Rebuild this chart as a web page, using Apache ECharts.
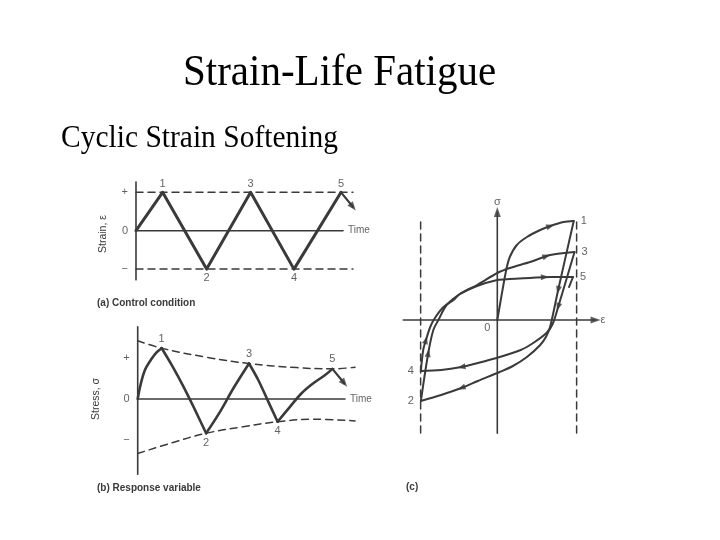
<!DOCTYPE html>
<html>
<head>
<meta charset="utf-8">
<script src="https://cdn.jsdelivr.net/npm/echarts@6/dist/echarts.min.js"></script>
<style>
  html, body { margin: 0; padding: 0; background: #fff; }
  #main { width: 720px; height: 540px; }
</style>
</head>
<body>
<div id="main"></div>
<script>
// ---- (a) control condition: strain vs time ----
var timeA = [0, 1.21, 3.21, 5.21, 7.18, 9.32];
var strainA = [0, 1, -1, 1, -1, 1];
var tailA = [[9.32, 1], [9.86, 0.62]];
var limitTimeA = [0, 9.86];
var axisTimeA = [0, 9.41];
var axisStrainA = [-1.28, 1.27];
var levelLabels = ['+', '0', '\u2212'];
var levelValues = [1, 0, -1];
var peakNames = ['1', '2', '3', '4', '5'];

// ---- (b) response: stress vs time ----
var timeB = [0, 0.11, 0.33, 0.64, 0.86, 1.09, 1.55, 2.08, 2.61, 3.11, 3.74, 4.35, 5.06, 5.48, 5.94, 6.36, 6.92, 7.45, 7.98, 8.52, 8.85];
var stressB = [0, 0.30, 0.70, 0.98, 1.13, 1.23, 0.82, 0.30, -0.27, -0.83, -0.31, 0.26, 0.86, 0.46, -0.07, -0.55, -0.19, 0.14, 0.38, 0.58, 0.73];
var peakTimeB = [1.09, 3.11, 5.06, 6.36, 8.85];
var peakStressB = [1.23, -0.83, 0.86, -0.55, 0.73];
var tailB = [[8.85, 0.73], [9.39, 0.38]];
var upperEnvT = [0, 1.09, 3.14, 5.06, 7.23, 8.85, 9.88];
var upperEnvS = [1.41, 1.23, 1.01, 0.86, 0.76, 0.73, 0.77];
var lowerEnvT = [0, 1.5, 3.11, 4.8, 6.36, 7.98, 9.88];
var lowerEnvS = [-1.32, -1.07, -0.83, -0.67, -0.55, -0.49, -0.53];
var axisTimeB = [0, 9.42];
var axisStressB = [-1.82, 1.75];

// ---- (c) stress-strain hysteresis [strain, stress] ----
var load01 = [[0, 0], [0.085, 0.38], [0.12, 0.52], [0.16, 0.63], [0.25, 0.75], [0.38, 0.83], [0.55, 0.90], [0.68, 0.94], [0.85, 0.98], [0.98, 0.99]];
var branch12 = [[0.98, 0.99], [0.78, 0.30], [0.68, -0.06], [0.63, -0.16], [0.55, -0.25], [0.38, -0.37], [0.2, -0.46], [0.03, -0.52], [-0.25, -0.61], [-0.46, -0.68], [-0.72, -0.75], [-0.98, -0.81]];
var branch23 = [[-0.98, -0.81], [-0.885, -0.33], [-0.82, -0.10], [-0.755, 0], [-0.65, 0.15], [-0.48, 0.26], [-0.26, 0.35], [0, 0.47], [0.16, 0.52], [0.42, 0.58], [0.68, 0.65], [0.99, 0.68]];
var branch34 = [[0.99, 0.68], [0.78, 0.13], [0.71, -0.04], [0.63, -0.13], [0.46, -0.23], [0.3, -0.3], [0.03, -0.37], [-0.25, -0.43], [-0.46, -0.47], [-0.72, -0.50], [-0.98, -0.51]];
var branch45 = [[-0.98, -0.51], [-0.95, -0.30], [-0.915, -0.2], [-0.86, -0.07], [-0.8, 0.02], [-0.69, 0.13], [-0.56, 0.2], [-0.48, 0.26], [-0.26, 0.34], [0, 0.40], [0.16, 0.41], [0.42, 0.42], [0.68, 0.43], [0.97, 0.43]];
var tail5 = [[0.97, 0.43], [0.92, 0.33]];
var turnPointsC = [[0.98, 0.99], [-0.98, -0.81], [0.99, 0.68], [-0.98, -0.51], [0.97, 0.43]];
var limitStrainC = [-0.983, 1.017];
var limitStressC = [-1.13, 0.98];
var axisStrainC = [-1.205, 1.26];
var axisStressC = [-1.133, 1.08];
// arrow heads: [strain, stress, rotation]
var arrowsC = [[0.68, 0.94, -71], [0.63, 0.64, -71], [0.61, 0.43, -88], [0.78, 0.30, 167], [0.78, 0.13, 163],
               [-0.46, -0.47, 101], [-0.46, -0.68, 111], [-0.915, -0.2, -15], [-0.885, -0.33, -9]];

var ink = '#3a3a3a';
var sans = '"Liberation Sans", Arial, sans-serif';
var serif = '"Liberation Serif", "Times New Roman", serif';

var myChart = echarts.init(document.getElementById('main'));

function zip(xs, ys) {
    return xs.map(function (x, i) { return [x, ys[i]]; });
}

function line(g, pts, w, dashed, smooth) {
    return {
        type: 'line', xAxisIndex: g, yAxisIndex: g, data: pts, symbol: 'none',
        smooth: smooth || false, clip: false, silent: true,
        lineStyle: { color: ink, width: w, type: dashed ? [7, 5] : 'solid', cap: 'round', join: 'round' }
    };
}

function heads(g, list, size) {
    return {
        type: 'scatter', xAxisIndex: g, yAxisIndex: g, clip: false, silent: true,
        symbol: 'triangle', symbolSize: size || [7, 9],
        itemStyle: { color: ink },
        data: list.map(function (a) { return { value: [a[0], a[1]], symbolRotate: a[2] }; })
    };
}

function labels(g, pts, names, posFn, dist, size) {
    return {
        type: 'scatter', xAxisIndex: g, yAxisIndex: g, clip: false, silent: true,
        symbolSize: 0,
        data: pts.map(function (p, i) {
            return {
                value: p, name: names[i],
                label: { show: true, formatter: '{b}', position: posFn(p, i), distance: dist,
                         color: ink, fontFamily: sans, fontSize: size || 11 }
            };
        })
    };
}

var series = [];

// (a)
series.push(line(0, [[axisTimeA[0], 0], [axisTimeA[1], 0]], 1.6));
series.push(line(0, [[0, axisStrainA[0]], [0, axisStrainA[1]]], 1.6));
series.push(line(0, [[limitTimeA[0], 1], [limitTimeA[1], 1]], 1.5, true));
series.push(line(0, [[limitTimeA[0], -1], [limitTimeA[1], -1]], 1.5, true));
series.push(line(0, zip(timeA, strainA), 3));
series.push(line(0, tailA, 2.2));
series.push(heads(0, [[tailA[1][0], tailA[1][1], -141]], [7, 9]));
series.push(labels(0, zip(timeA.slice(1), strainA.slice(1)), peakNames,
    function (p) { return p[1] > 0 ? 'top' : 'bottom'; }, 3));
series.push(labels(0, levelValues.map(function (v) { return [0, v]; }), levelLabels,
    function () { return 'left'; }, 8));
series.push(labels(0, [[axisTimeA[1], 0]], ['Time'], function () { return 'right'; }, 5, 10));

// (b)
series.push(line(1, [[axisTimeB[0], 0], [axisTimeB[1], 0]], 1.6));
series.push(line(1, [[0, axisStressB[0]], [0, axisStressB[1]]], 1.6));
series.push(line(1, zip(upperEnvT, upperEnvS), 1.5, true, 0.4));
series.push(line(1, zip(lowerEnvT, lowerEnvS), 1.5, true, 0.4));
// stress trace: one smooth piece per half cycle so the turning points stay sharp
var cutsB = [0].concat(peakTimeB.map(function (t) { return timeB.indexOf(t); }));
for (var k = 1; k < cutsB.length; k++) {
    series.push(line(1, zip(timeB, stressB).slice(cutsB[k - 1], cutsB[k] + 1), 2.6, false, 0.35));
}
series.push(line(1, tailB, 2.2));
series.push(heads(1, [[tailB[1][0], tailB[1][1], -140]], [7, 9]));
series.push(labels(1, zip(peakTimeB, peakStressB), peakNames,
    function (p) { return p[1] > 0 ? 'top' : 'bottom'; }, 4));
series.push(labels(1, levelValues.map(function (v) { return [0, v]; }), levelLabels,
    function () { return 'left'; }, 8));
series.push(labels(1, [[axisTimeB[1], 0]], ['Time'], function () { return 'right'; }, 5, 10));

// (c)
series.push(line(2, [[axisStrainC[0], 0], [axisStrainC[1], 0]], 1.6));
series.push(line(2, [[0, axisStressC[0]], [0, axisStressC[1]]], 1.6));
series.push(line(2, [[limitStrainC[0], limitStressC[0]], [limitStrainC[0], limitStressC[1]]], 1.5, true));
series.push(line(2, [[limitStrainC[1], limitStressC[0]], [limitStrainC[1], limitStressC[1]]], 1.5, true));
[load01, branch12, branch23, branch34, branch45].forEach(function (b) {
    series.push(line(2, b, 2, false, 0.3));
});
series.push(line(2, tail5, 2));
series.push(heads(2, arrowsC, [6, 8]));
series.push(heads(2, [[axisStrainC[1], 0, -90], [0, axisStressC[1], 0]], [7, 10]));
series.push(labels(2, turnPointsC, peakNames,
    function (p) { return p[0] > 0 ? 'right' : 'left'; }, 7));
series.push(labels(2, [[0, axisStressC[1]]], ['\u03c3'], function () { return 'top'; }, 5));
series.push(labels(2, [[axisStrainC[1], 0]], ['\u03b5'], function () { return 'right'; }, 5));
series.push(labels(2, [[0, 0]], ['0'], function () { return [-13, 2]; }, 0));

var hidden = { type: 'value', show: false };

option = {
    backgroundColor: '#ffffff',
    animation: false,
    grid: [
        { left: 136, top: 180.8, width: 220, height: 99.84 },
        { left: 137.7, top: 322.6, width: 220, height: 152.8 },
        { left: 388.1, top: 200, width: 218.4, height: 240 }
    ],
    xAxis: [
        Object.assign({ gridIndex: 0, min: 0, max: 10 }, hidden),
        Object.assign({ gridIndex: 1, min: 0, max: 10 }, hidden),
        Object.assign({ gridIndex: 2, min: -1.4, max: 1.4 }, hidden)
    ],
    yAxis: [
        Object.assign({ gridIndex: 0, min: -1.3, max: 1.3 }, hidden),
        Object.assign({ gridIndex: 1, min: -1.85, max: 1.85 }, hidden),
        Object.assign({ gridIndex: 2, min: -1.2, max: 1.2 }, hidden)
    ],
    graphic: [
        { type: 'text', x: 183, y: 73, scaleY: 1.1, style: { text: 'Strain-Life Fatigue', font: '41px ' + serif, fill: '#000', align: 'left', verticalAlign: 'middle' } },
        { type: 'text', x: 61, y: 139, scaleY: 1.07, style: { text: 'Cyclic Strain Softening', font: '29.5px ' + serif, fill: '#000', align: 'left', verticalAlign: 'middle' } },
        { type: 'text', x: 97, y: 303, style: { text: '(a) Control condition', font: 'bold 10px ' + sans, fill: ink, align: 'left', verticalAlign: 'middle' } },
        { type: 'text', x: 97, y: 488, style: { text: '(b) Response variable', font: 'bold 10px ' + sans, fill: ink, align: 'left', verticalAlign: 'middle' } },
        { type: 'text', x: 406, y: 487, style: { text: '(c)', font: 'bold 10px ' + sans, fill: ink, align: 'left', verticalAlign: 'middle' } },
        { type: 'text', x: 103, y: 234, rotation: Math.PI / 2, style: { text: 'Strain, \u03b5', font: '10.5px ' + sans, fill: ink, align: 'center', verticalAlign: 'middle' } },
        { type: 'text', x: 96, y: 399, rotation: Math.PI / 2, style: { text: 'Stress, \u03c3', font: '10.5px ' + sans, fill: ink, align: 'center', verticalAlign: 'middle' } }
    ],
    series: series
};

myChart.setOption(option);
</script>
</body>
</html>
